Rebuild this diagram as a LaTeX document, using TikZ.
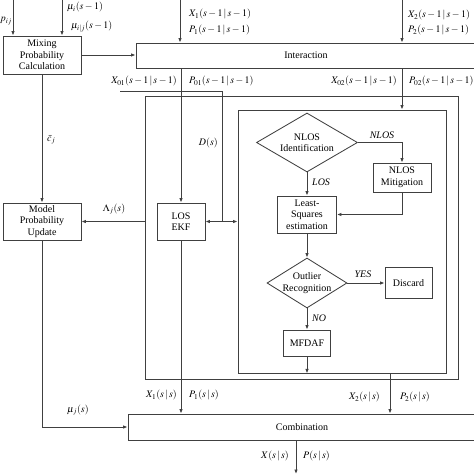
\documentclass[tikz,border=0pt]{standalone}
\usepackage{mathptmx}
\usepackage{fontspec}
\setmainfont{Liberation Serif}
\usetikzlibrary{positioning}
\usetikzlibrary{arrows.meta}
\usetikzlibrary{shapes.geometric}
\definecolor{linegray}{rgb}{0.25,0.25,0.25}
\newcommand{\given}{\,|\,}

\begin{document}
\begin{tikzpicture}[%
  x=1pt, y=-1pt,
  >={Latex[length=4.5pt,width=3.5pt]},
  block/.style={draw=linegray, line width=0.85pt, rectangle, align=center,
    inner sep=1pt, font=\fontsize{10}{11.5}\selectfont},
  decision/.style={block, diamond, aspect=1.7, inner sep=0pt},
  frame/.style={draw=linegray, line width=0.85pt, rectangle, inner sep=0pt},
  lab/.style={inner sep=0pt, font=\fontsize{10}{12}\selectfont},
  wire/.style={draw=linegray, line width=0.85pt},
]

  \useasboundingbox (0,0) rectangle (474,474);

  % blocks
  \node[block, minimum width=78, minimum height=38] (mix) at (42,55) {Mixing\\Probability\\Calculation};
  \node[block, minimum width=78, minimum height=37] (model) at (42,221.5) {Model\\Probability\\Update};
  \node[block, minimum width=340, minimum height=25] (inter) at (306,55.5) {Interaction};
  \node[block, minimum width=348, minimum height=26] (comb) at (302,427) {Combination};
  \node[block, minimum width=48, minimum height=37] (ekf) at (181,221.5) {LOS\\EKF};
  \node[frame, minimum width=313, minimum height=283] (outer) at (301.5,237.5) {};
  \node[frame, minimum width=208, minimum height=263] (inner) at (342,241.5) {};

  % NLOS branch
  \node[decision, minimum width=101, minimum height=59] (nlosid) at (307,142.5) {NLOS\\Identification};
  \node[block, minimum width=58, minimum height=29] (mitig) at (402,177.5) {NLOS\\Mitigation};
  \node[block, minimum width=59, minimum height=37] (lsq) at (307,214.5) {Least-\\Squares\\estimation};
  \node[decision, minimum width=80, minimum height=50, inner sep=-3pt] (outl) at (307,283) {Outlier\\Recognition};
  \node[block, minimum width=47, minimum height=31] (disc) at (408.5,283) {Discard};
  \node[block, minimum width=47, minimum height=26] (mfdaf) at (307,343) {MFDAF};

  \coordinate (pin) at (13,0);
  \coordinate (muin) at (62,0);
  \coordinate (xin1) at (180,0);
  \coordinate (xin2) at (402,0);
  \coordinate (dsrc) at (120,91);
  \coordinate (dbend) at (222,91);
  \coordinate (xout) at (296,474);

  % connectors
  \draw[wire,->] (pin) -- (pin |- mix.north);
  \draw[wire,->] (muin) -- (muin |- mix.north);
  \draw[wire,->] (xin1) -- (xin1 |- inter.north);
  \draw[wire,->] (xin2) -- (xin2 |- inter.north);
  \draw[wire,->] (mix.east) -- (mix.east -| inter.west);
  \draw[wire,->] (mix.south) -- (model.north);
  \draw[wire,->] (ekf.north |- inter.south) -- (ekf.north);
  \draw[wire,->] (xin2 |- inter.south) -- (xin2 |- inner.north);
  \draw[wire] (dsrc) -- (dbend) -- (dbend |- ekf.east);
  \draw[wire,<->] (ekf.east) -- (ekf.east -| inner.west);
  \draw[wire,->] (outer.west |- model.east) -- (model.east);
  \draw[wire,->] (ekf.south) -- (ekf.south |- comb.north);
  \draw[wire,->] (model.south) |- (comb.west);
  \draw[wire,->] ([xshift=48pt]inner.south) -- ([xshift=48pt]inner.south |- comb.north);
  \draw[wire,->] (comb.south -| xout) -- (xout);

  \draw[wire,->] (nlosid.east) -| (mitig.north);
  \draw[wire,->] (nlosid.south) -- (lsq.north);
  \draw[wire,->] (mitig.south) |- (lsq.east);
  \draw[wire,->] (lsq.south) -- (outl.north);
  \draw[wire,->] (outl.east) -- (disc.west);
  \draw[wire,->] (outl.south) -- (mfdaf.north);
  \draw[wire,->] (mfdaf.south) -- (mfdaf.south |- inner.south);

  % labels
  \node[lab, anchor=east] at (12,21) {$p_{ij}$};
  \node[lab, anchor=west] at (67,7) {$\mu_i(s-1)$};
  \node[lab, anchor=west] at (71,27) {$\mu_{i|j}(s-1)$};
  \node[lab, anchor=west] at (189,14) {$X_1(s-1\given s-1)$};
  \node[lab, anchor=west] at (189,30) {$P_1(s-1\given s-1)$};
  \node[lab, anchor=west] at (408,15) {$X_2(s-1\given s-1)$};
  \node[lab, anchor=west] at (408,30) {$P_2(s-1\given s-1)$};
  \node[lab, anchor=east] at (177,81) {$X_{01}(s-1\given s-1)$};
  \node[lab, anchor=west] at (189,81) {$P_{01}(s-1\given s-1)$};
  \node[lab, anchor=east] at (397,81) {$X_{02}(s-1\given s-1)$};
  \node[lab, anchor=west] at (409,81) {$P_{02}(s-1\given s-1)$};
  \node[lab, anchor=east] at (218,143) {$D(s)$};
  \node[lab, anchor=west] at (47,140) {$\bar{c}_j$};
  \node[lab] at (114,209) {$\Lambda_j(s)$};
  \node[lab, anchor=east] at (177,395) {$X_1(s\given s)$};
  \node[lab, anchor=west] at (189,395) {$P_1(s\given s)$};
  \node[lab] at (78,410) {$\mu_j(s)$};
  \node[lab, anchor=east] at (380,397) {$X_2(s\given s)$};
  \node[lab, anchor=west] at (400,397) {$P_2(s\given s)$};
  \node[lab, anchor=east] at (289,456) {$X(s\given s)$};
  \node[lab, anchor=west] at (303,456) {$P(s\given s)$};
  \node[lab] at (382,135) {\textit{NLOS}};
  \node[lab, anchor=west] at (312,182) {\textit{LOS}};
  \node[lab] at (363,274) {\textit{YES}};
  \node[lab, anchor=west] at (312,318) {\textit{NO}};

\end{tikzpicture}
\end{document}
